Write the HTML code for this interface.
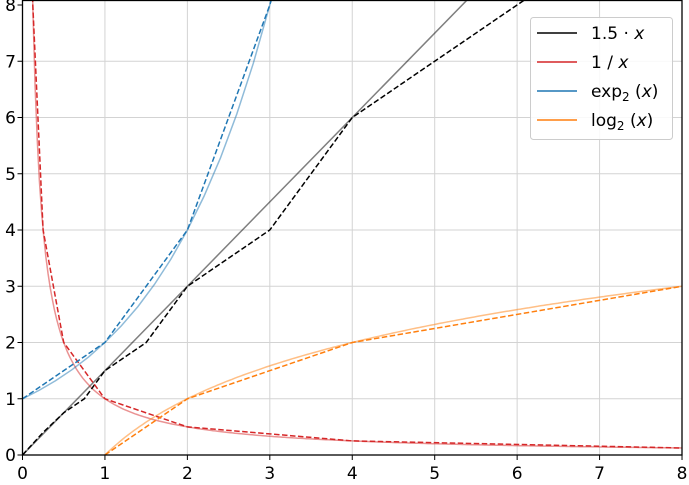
<!DOCTYPE html>
<html><head><style>body{margin:0;background:#fff}svg{display:block}</style></head>
<body>
<svg id="s" width="689" height="485" xmlns="http://www.w3.org/2000/svg" font-family="DejaVu Sans, Liberation Sans, sans-serif">
<defs><clipPath id="c"><rect x="22.5" y="0" width="659.5" height="455"/></clipPath></defs>
<g id="grid" stroke="#d3d3d3" stroke-width="1"></g>
<g id="plot" clip-path="url(#c)" fill="none" stroke-width="1.5"></g>
<g stroke="#000" stroke-width="1.3" fill="none"><rect x="22.5" y="0.5" width="659.5" height="454.5"/></g>
<g id="ticks" font-size="17" fill="#000"></g>
<g>
<rect x="530.5" y="17.5" width="142" height="122" rx="3" fill="#fff" fill-opacity="0.85" stroke="#ccc"/>
<line x1="537" y1="33" x2="577" y2="33" stroke="#000" stroke-width="1.5"/>
<line x1="537" y1="62" x2="577" y2="62" stroke="#d62728" stroke-width="1.5"/>
<line x1="537" y1="91" x2="577" y2="91" stroke="#1f77b4" stroke-width="1.5"/>
<line x1="537" y1="120" x2="577" y2="120" stroke="#ff7f0e" stroke-width="1.5"/>
<g font-size="17" fill="#000">
<text x="591" y="39">1.5 · <tspan font-style="italic">x</tspan></text>
<text x="591" y="68">1 / <tspan font-style="italic">x</tspan></text>
<text x="591" y="97">exp<tspan font-size="12" dy="4">2</tspan><tspan dy="-4"> (</tspan><tspan font-style="italic">x</tspan>)</text>
<text x="591" y="126">log<tspan font-size="12" dy="4">2</tspan><tspan dy="-4"> (</tspan><tspan font-style="italic">x</tspan>)</text>
</g></g>
</svg>
<script>
const X=x=>22.5+x*82.44, Y=y=>455-y*56.25, NS="http://www.w3.org/2000/svg";
function el(p,t,a,txt){const e=document.createElementNS(NS,t);for(const k in a)e.setAttribute(k,a[k]);if(txt!=null)e.textContent=txt;document.getElementById(p).appendChild(e);}
for(let i=1;i<8;i++){el("grid","line",{x1:X(i),x2:X(i),y1:0,y2:455});el("grid","line",{x1:22.5,x2:682,y1:Y(i),y2:Y(i)});}
for(let i=0;i<=8;i++){el("ticks","text",{x:X(i),y:479,"text-anchor":"middle"},i);el("ticks","text",{x:16,y:Y(i)+6,"text-anchor":"end"},i);
el("ticks","line",{x1:X(i),x2:X(i),y1:455,y2:460,stroke:"#000"});el("ticks","line",{x1:22.5,x2:17.5,y1:Y(i),y2:Y(i),stroke:"#000"});}
function P(pts,col,op,dash){el("plot","polyline",{points:pts.map(p=>X(p[0]).toFixed(1)+","+Y(p[1]).toFixed(1)).join(" "),stroke:col,"stroke-opacity":op,"stroke-dasharray":dash||"none"});}
function F(f,a,b,n){const r=[];for(let i=0;i<=n;i++){const x=a+(b-a)*i/n;r.push([x,f(x)]);}return r;}
P(F(x=>1.5*x,0,8,2),"#000",0.5);
P(F(x=>1/x,0.1,8,300),"#d62728",0.5);
P(F(x=>Math.pow(2,x),0,3.2,16),"#1f77b4",0.5);
P(F(x=>Math.log2(x),1,8,200),"#ff7f0e",0.5);
P([[0,0],[0.25,0.4],[0.5,0.75],[0.75,1],[1,1.5],[1.5,2],[2,3],[3,4],[4,6],[6,8],[7,9]],"#000",1,"5.5,2.5");
P([[0.1,10],[0.125,8],[0.25,4],[0.5,2],[1,1],[2,0.5],[4,0.25],[8,0.125]],"#d62728",1,"5.5,2.5");
P([[0,1],[1,2],[2,4],[3,8],[3.2,9]],"#1f77b4",1,"5.5,2.5");
P([[1,0],[2,1],[4,2],[8,3]],"#ff7f0e",1,"5.5,2.5");
</script>
</body></html>
